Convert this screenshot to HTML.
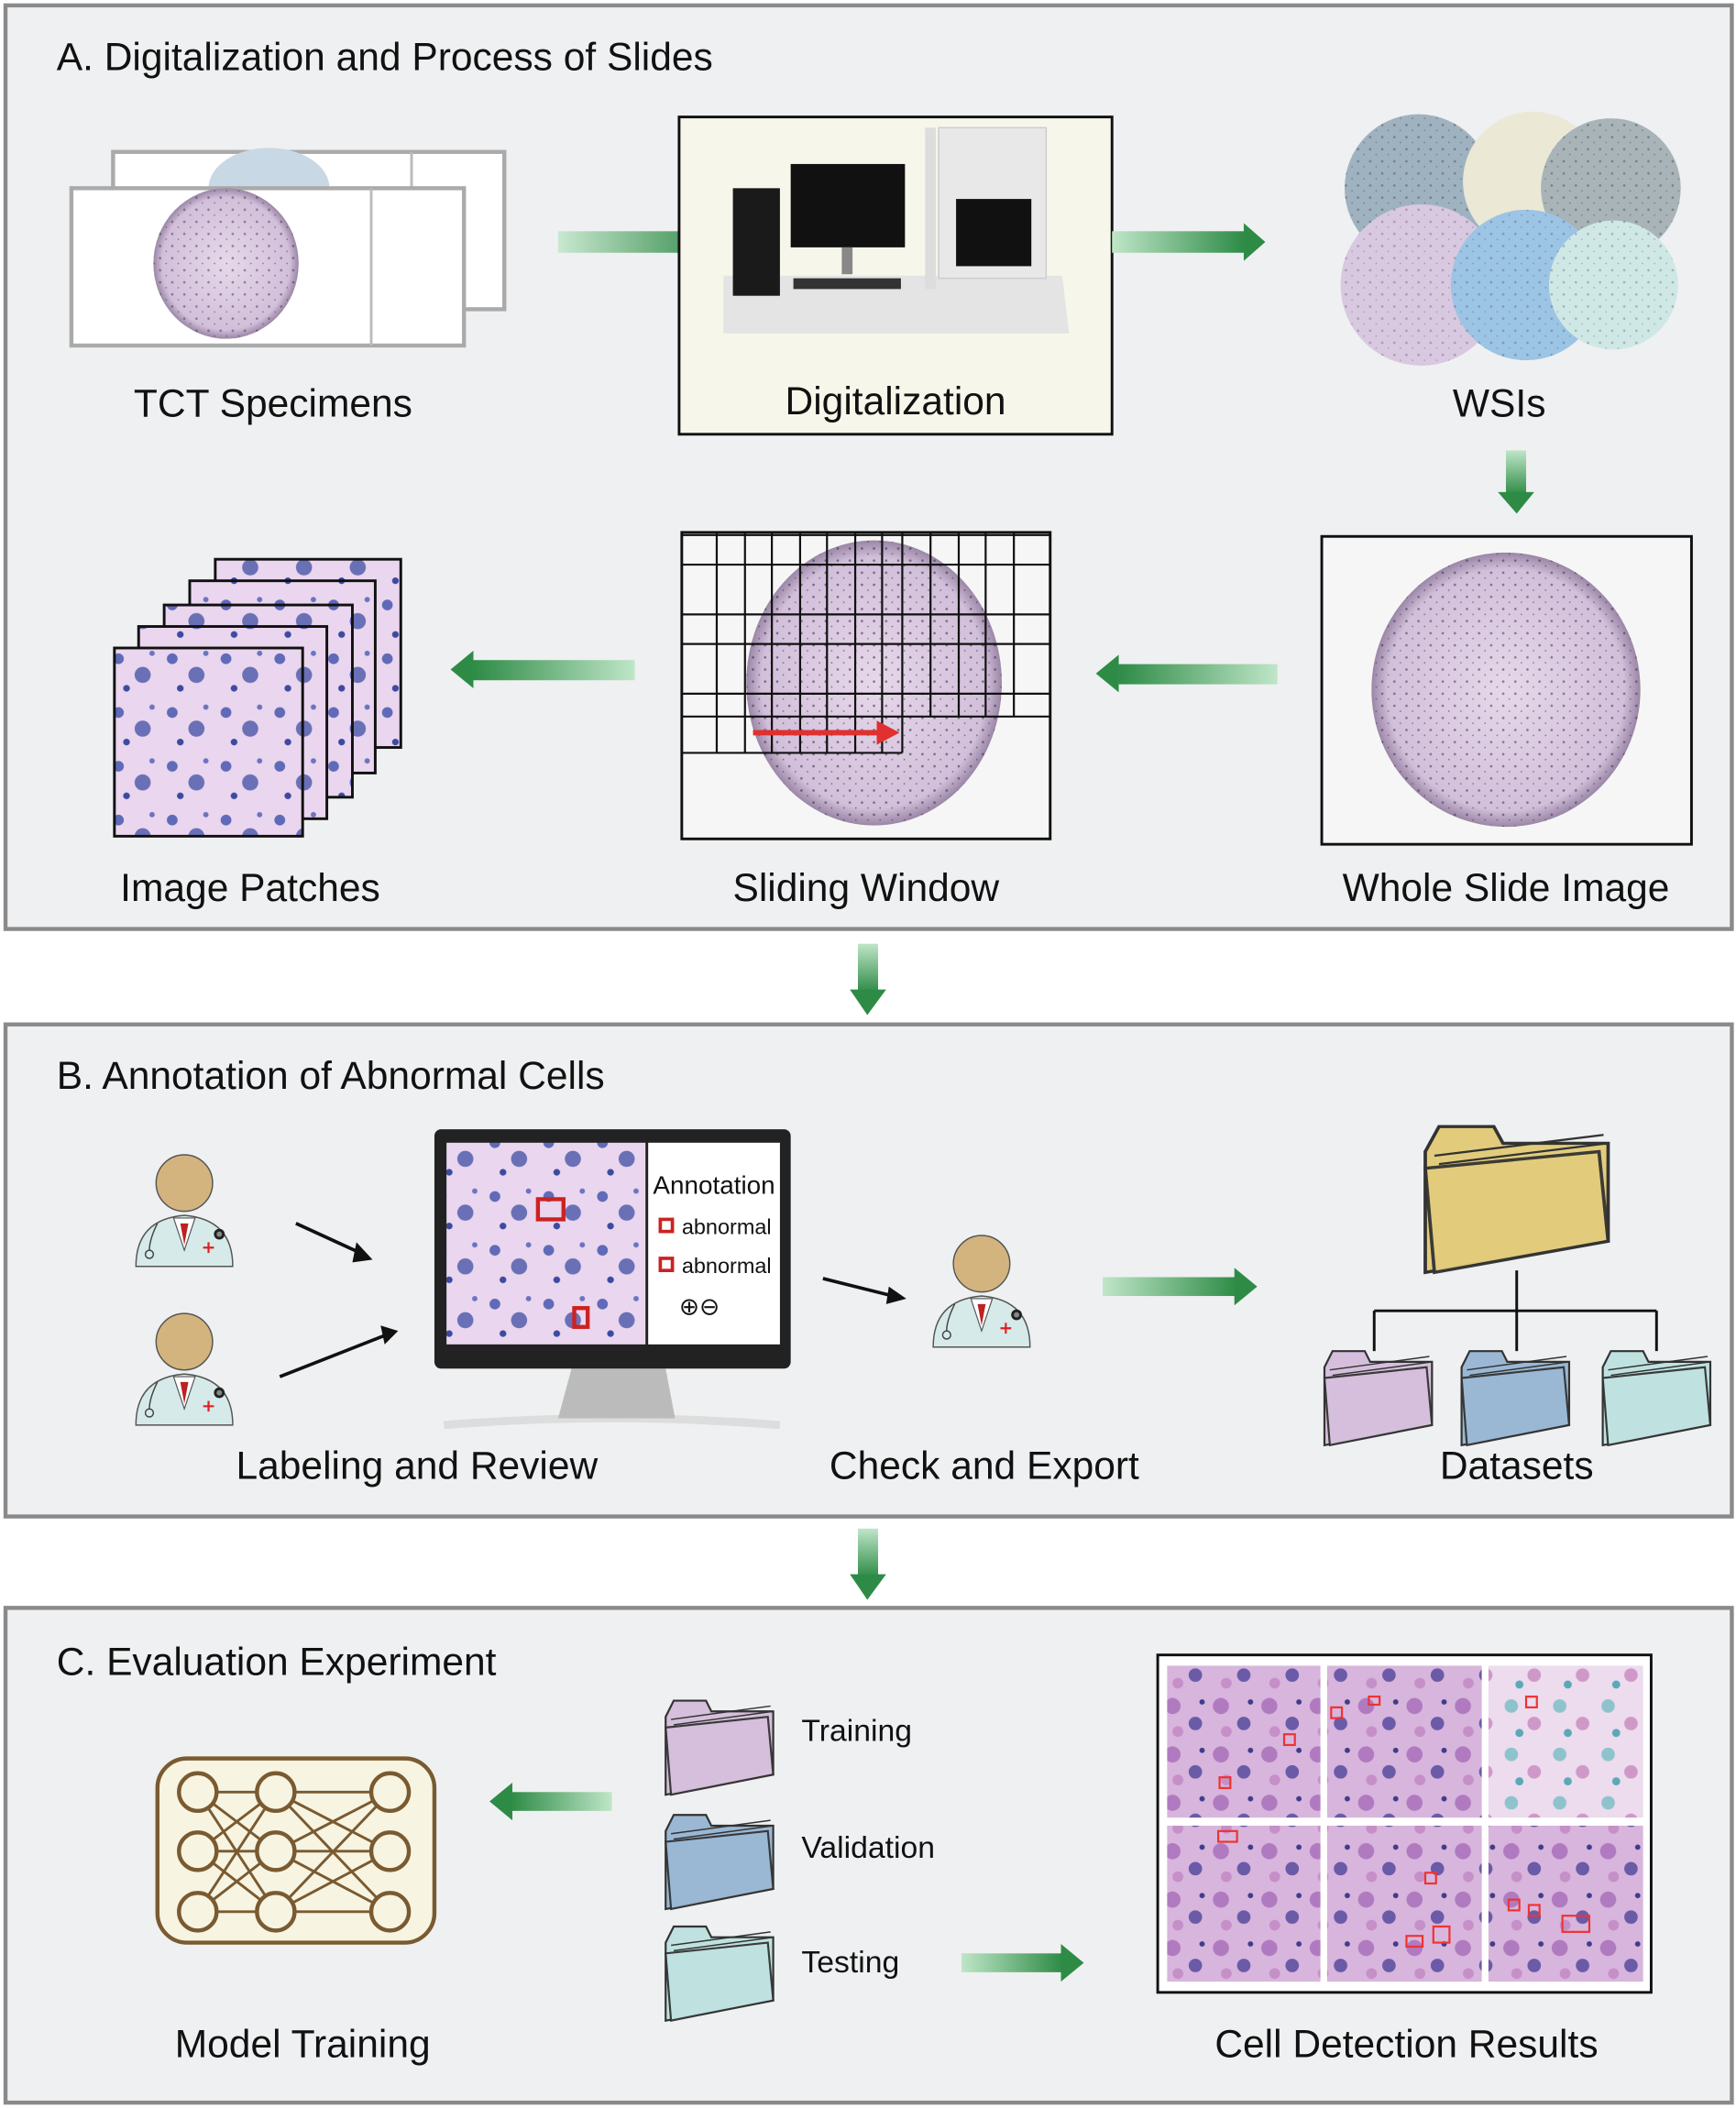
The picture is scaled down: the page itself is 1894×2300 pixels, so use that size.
<!DOCTYPE html>
<html><head><meta charset="utf-8"><style>
html,body{margin:0;padding:0;background:#fff}
svg{display:block}
text{font-family:"Liberation Sans",sans-serif;fill:#111}
</style></head><body>
<svg width="1894" height="2300" viewBox="0 0 1291 1568" xmlns="http://www.w3.org/2000/svg">
<defs>
<linearGradient id="gr" x1="0" x2="1"><stop offset="0" stop-color="#bfe6c8"/><stop offset="1" stop-color="#2e8b46"/></linearGradient>
<linearGradient id="gl" x1="1" x2="0"><stop offset="0" stop-color="#bfe6c8"/><stop offset="1" stop-color="#2e8b46"/></linearGradient>
<linearGradient id="gd" x1="0" x2="0" y1="0" y2="1"><stop offset="0" stop-color="#bfe6c8"/><stop offset="1" stop-color="#2e8b46"/></linearGradient>
<radialGradient id="pur"><stop offset="0" stop-color="#e6d8ea"/><stop offset="0.88" stop-color="#d2bfda"/><stop offset="1" stop-color="#9a86a6"/></radialGradient>
<pattern id="dots" width="9" height="9" patternUnits="userSpaceOnUse"><circle cx="2" cy="3" r="0.9" fill="#3a2d45"/><circle cx="6.5" cy="7" r="0.6" fill="#3a2d45"/></pattern>
<pattern id="cells" width="40" height="40" patternUnits="userSpaceOnUse"><rect width="40" height="40" fill="#ead6ee"/><circle cx="8" cy="10" r="4" fill="#5f6ab8"/><circle cx="26" cy="22" r="6" fill="#4a56a8" opacity="0.8"/><circle cx="14" cy="32" r="2.5" fill="#3d4aa0"/><circle cx="33" cy="6" r="2" fill="#6b74c0"/></pattern>
<pattern id="cells2" width="36" height="36" patternUnits="userSpaceOnUse"><rect width="36" height="36" fill="#d8b5dc"/><circle cx="8" cy="9" r="6" fill="#b07ac0"/><circle cx="25" cy="22" r="5" fill="#6a5aa8"/><circle cx="12" cy="28" r="4" fill="#c58fc8"/><circle cx="30" cy="6" r="2" fill="#3d3d8a"/></pattern>
<pattern id="cells3" width="36" height="36" patternUnits="userSpaceOnUse"><rect width="36" height="36" fill="#ecdcee"/><circle cx="8" cy="9" r="5" fill="#8fc3cc"/><circle cx="25" cy="22" r="5" fill="#d098c8"/><circle cx="14" cy="29" r="3" fill="#5aa8b8"/></pattern>
<g id="doc">
<path d="M-36,40 Q-36,5 0,2 Q36,5 36,40 Z" fill="#d6eaea" stroke="#555" stroke-width="1"/>
<path d="M-8,4 L0,28 L8,4 Z" fill="#fff" stroke="#555" stroke-width="0.8"/>
<path d="M-3,8 L0,24 L3,8 Z" fill="#b22"/>
<path d="M-20,8 Q-26,20 -26,28" fill="none" stroke="#444"/><circle cx="-26" cy="31" r="3" fill="none" stroke="#444"/>
<circle cx="26" cy="16" r="4" fill="#222"/><circle cx="26" cy="16" r="2" fill="#888"/>
<path d="M14,26 h8 M18,22 v8" stroke="#d22" stroke-width="1.5"/>
<circle cx="0" cy="-22" r="21" fill="#d4b47e" stroke="#555" stroke-width="1"/>
</g>
<g id="fold">
<path d="M0,12 L6,0 L30,0 L34,8 L80,8 L80,55 L0,70 Z" fill="currentColor" stroke="#333" stroke-width="1.5"/>
<path d="M4,14 L78,4 M6,18 L80,8" stroke="#333" stroke-width="1" fill="none"/>
<path d="M0,20 L76,12 L80,55 L4,70 Z" fill="currentColor" stroke="#333" stroke-width="1.5" opacity="0.95"/>
</g>
</defs>

<!-- Panel A -->
<rect x="4" y="4" width="1284" height="687" fill="#eff0f1" stroke="#8a8a8a" stroke-width="3"/>
<text x="42" y="52" font-size="29">A. Digitalization and Process of Slides</text>
<rect x="84" y="113" width="291" height="117" fill="#fff" stroke="#aaa" stroke-width="3"/>
<line x1="306" y1="113" x2="306" y2="230" stroke="#bbb" stroke-width="2"/>
<path d="M155,140 A45,30 0 0 1 245,140 Z" fill="#c8d8e4"/>
<rect x="53" y="140" width="292" height="117" fill="#fff" stroke="#aaa" stroke-width="3"/>
<line x1="276" y1="140" x2="276" y2="257" stroke="#bbb" stroke-width="2"/>
<ellipse cx="168" cy="196" rx="54" ry="56" fill="url(#pur)"/>
<ellipse cx="168" cy="196" rx="54" ry="56" fill="url(#dots)" opacity="0.5"/>
<text x="203" y="310" font-size="29" text-anchor="middle">TCT Specimens</text>
<rect x="415" y="172" width="92" height="16" fill="url(#gr)" opacity="0.8"/>
<rect x="505" y="87" width="322" height="236" fill="#f6f6ea" stroke="#111" stroke-width="2"/>
<path d="M538,205 L790,205 L795,248 L538,248 Z" fill="#e4e4e4"/>
<rect x="545" y="140" width="35" height="80" fill="#1a1a1a"/>
<rect x="588" y="122" width="85" height="62" fill="#111"/>
<rect x="626" y="184" width="8" height="20" fill="#888"/>
<rect x="590" y="207" width="80" height="8" fill="#333"/>
<rect x="688" y="95" width="8" height="120" fill="#ddd"/>
<rect x="698" y="95" width="80" height="112" fill="#e8e8e8" stroke="#ccc"/>
<rect x="711" y="148" width="56" height="50" fill="#111"/>
<text x="666" y="308" font-size="29" text-anchor="middle">Digitalization</text>
<rect x="827" y="172" width="98" height="16" fill="url(#gr)"/>
<polygon points="925,166 941,180 925,194" fill="#2e8b46"/>
<circle cx="1055" cy="140" r="55" fill="#9fb2c0"/><circle cx="1055" cy="140" r="55" fill="url(#dots)" opacity="0.4"/>
<circle cx="1140" cy="135" r="52" fill="#ece8d6"/>
<circle cx="1198" cy="140" r="52" fill="#a8b4b8"/><circle cx="1198" cy="140" r="52" fill="url(#dots)" opacity="0.4"/>
<circle cx="1057" cy="212" r="60" fill="#d8c8e0"/><circle cx="1057" cy="212" r="60" fill="url(#dots)" opacity="0.3"/>
<circle cx="1135" cy="212" r="56" fill="#9cc4e4"/><circle cx="1135" cy="212" r="56" fill="url(#dots)" opacity="0.3"/>
<circle cx="1200" cy="212" r="48" fill="#cfe8e6"/><circle cx="1200" cy="212" r="48" fill="url(#dots)" opacity="0.3"/>
<text x="1115" y="310" font-size="29" text-anchor="middle">WSIs</text>
<rect x="1120" y="335" width="15" height="33" fill="url(#gd)"/>
<polygon points="1114,366 1141,366 1128,382" fill="#2e8b46"/>
<rect x="983" y="399" width="275" height="229" fill="#f6f6f6" stroke="#111" stroke-width="2"/>
<ellipse cx="1120" cy="513" rx="100" ry="102" fill="url(#pur)"/><ellipse cx="1120" cy="513" rx="100" ry="102" fill="url(#dots)" opacity="0.55"/>
<text x="1120" y="670" font-size="29" text-anchor="middle">Whole Slide Image</text>
<rect x="832" y="494" width="118" height="15" fill="url(#gl)"/>
<polygon points="832,487 815,501 832,515" fill="#2e8b46"/>
<rect x="507" y="396" width="274" height="228" fill="#f6f6f6" stroke="#111" stroke-width="2"/>
<ellipse cx="650" cy="508" rx="95" ry="106" fill="url(#pur)"/><ellipse cx="650" cy="508" rx="95" ry="106" fill="url(#dots)" opacity="0.6"/>
<g stroke="#111" stroke-width="1.5" fill="none">
<path d="M507,420H781 M507,457H781 M507,479H781 M507,516H781 M507,533H781 M507,560H671 M507,398H781"/>
<path d="M533,396V560 M554,396V560 M574,396V560 M595,396V560 M615,396V560 M636,396V560 M656,396V560 M671,396V560 M692,396V533 M713,396V533 M733,396V533 M754,396V533"/>
</g>
<line x1="560" y1="545" x2="655" y2="545" stroke="#e03030" stroke-width="4"/>
<polygon points="652,536 669,545 652,554" fill="#e03030"/>
<text x="644" y="670" font-size="29" text-anchor="middle">Sliding Window</text>
<rect x="352" y="491" width="120" height="15" fill="url(#gl)"/>
<polygon points="352,484 335,498 352,512" fill="#2e8b46"/>
<g stroke="#111" stroke-width="2">
<rect x="160" y="416" width="138" height="140" fill="url(#cells)"/>
<rect x="141" y="432" width="138" height="143" fill="url(#cells)"/>
<rect x="122" y="450" width="140" height="143" fill="url(#cells)"/>
<rect x="103" y="466" width="140" height="143" fill="url(#cells)"/>
<rect x="85" y="482" width="140" height="140" fill="url(#cells)"/>
</g>
<text x="186" y="670" font-size="29" text-anchor="middle">Image Patches</text>

<rect x="638" y="702" width="15" height="36" fill="url(#gd)"/>
<polygon points="632,736 659,736 645,755" fill="#2e8b46"/>

<!-- Panel B -->
<rect x="4" y="762" width="1284" height="366" fill="#eff0f1" stroke="#8a8a8a" stroke-width="3"/>
<text x="42" y="810" font-size="29">B. Annotation of Abnormal Cells</text>
<use href="#doc" x="137" y="902"/>
<use href="#doc" x="137" y="1020"/>
<use href="#doc" x="730" y="962"/>
<g stroke="#111" stroke-width="2.5">
<line x1="220" y1="910" x2="268" y2="932"/><line x1="208" y1="1024" x2="287" y2="993"/><line x1="612" y1="951" x2="664" y2="964"/>
</g>
<polygon points="265,924 277,937 262,939" fill="#111"/>
<polygon points="283,986 296,990 286,1000" fill="#111"/>
<polygon points="661,957 674,966 659,970" fill="#111"/>
<path d="M330,1060 Q455,1050 580,1060" fill="none" stroke="#ddd" stroke-width="6"/>
<path d="M425,1018 L495,1018 L502,1055 L415,1055 Z" fill="#bbb"/>
<rect x="323" y="840" width="265" height="178" rx="5" fill="#222"/>
<rect x="332" y="850" width="148" height="150" fill="url(#cells)"/>
<rect x="482" y="850" width="98" height="150" fill="#fff"/>
<rect x="400" y="892" width="19" height="15" fill="none" stroke="#c22" stroke-width="3"/>
<rect x="427" y="973" width="10" height="14" fill="none" stroke="#c22" stroke-width="3"/>
<text x="531" y="888" font-size="19" text-anchor="middle">Annotation</text>
<rect x="491" y="907" width="9" height="9" fill="none" stroke="#c22" stroke-width="2.5"/>
<text x="507" y="918" font-size="16">abnormal</text>
<rect x="491" y="936" width="9" height="9" fill="none" stroke="#c22" stroke-width="2.5"/>
<text x="507" y="947" font-size="16">abnormal</text>
<text x="505" y="978" font-size="18">⊕⊖</text>
<text x="310" y="1100" font-size="29" text-anchor="middle">Labeling and Review</text>
<text x="732" y="1100" font-size="29" text-anchor="middle">Check and Export</text>
<rect x="820" y="950" width="100" height="14" fill="url(#gr)"/>
<polygon points="918,943 935,957 918,971" fill="#2e8b46"/>
<g color="#e2cc7c"><use href="#fold" transform="translate(1060,838) scale(1.7,1.55)"/></g>
<g stroke="#111" stroke-width="2" fill="none"><path d="M1128,945V975 M1022,975H1232 M1022,975V1005 M1128,975V1005 M1232,975V1005"/></g>
<g color="#d5bfdc"><use href="#fold" x="985" y="1005"/></g>
<g color="#9ab8d4"><use href="#fold" x="1087" y="1005"/></g>
<g color="#bfe2e0"><use href="#fold" x="1192" y="1005"/></g>
<text x="1128" y="1100" font-size="29" text-anchor="middle">Datasets</text>

<rect x="638" y="1137" width="15" height="36" fill="url(#gd)"/>
<polygon points="632,1171 659,1171 645,1190" fill="#2e8b46"/>

<!-- Panel C -->
<rect x="4" y="1196" width="1284" height="368" fill="#eff0f1" stroke="#8a8a8a" stroke-width="3"/>
<text x="42" y="1246" font-size="29">C. Evaluation Experiment</text>
<rect x="117" y="1308" width="206" height="137" rx="22" fill="#f7f4e2" stroke="#7a5a30" stroke-width="3"/>
<g stroke="#7a5a30" stroke-width="2" fill="none">
<path d="M147,1333L205,1333M147,1333L205,1377M147,1333L205,1422M147,1377L205,1333M147,1377L205,1377M147,1377L205,1422M147,1422L205,1333M147,1422L205,1377M147,1422L205,1422"/>
<path d="M205,1333L290,1333M205,1333L290,1377M205,1333L290,1422M205,1377L290,1333M205,1377L290,1377M205,1377L290,1422M205,1422L290,1333M205,1422L290,1377M205,1422L290,1422"/>
</g>
<g fill="#f7f4e2" stroke="#7a5a30" stroke-width="3">
<circle cx="147" cy="1333" r="14"/><circle cx="147" cy="1377" r="14"/><circle cx="147" cy="1422" r="14"/>
<circle cx="205" cy="1333" r="14"/><circle cx="205" cy="1377" r="14"/><circle cx="205" cy="1422" r="14"/>
<circle cx="290" cy="1333" r="14"/><circle cx="290" cy="1377" r="14"/><circle cx="290" cy="1422" r="14"/>
</g>
<text x="225" y="1530" font-size="29" text-anchor="middle">Model Training</text>
<rect x="380" y="1333" width="75" height="14" fill="url(#gl)"/>
<polygon points="381,1326 364,1340 381,1354" fill="#2e8b46"/>
<g color="#d5bfdc"><use href="#fold" x="495" y="1265"/></g>
<g color="#9ab8d4"><use href="#fold" x="495" y="1350"/></g>
<g color="#bfe2e0"><use href="#fold" x="495" y="1433"/></g>
<text x="596" y="1295" font-size="23">Training</text>
<text x="596" y="1382" font-size="23">Validation</text>
<text x="596" y="1467" font-size="23">Testing</text>
<rect x="715" y="1453" width="75" height="14" fill="url(#gr)"/>
<polygon points="789,1446 806,1460 789,1474" fill="#2e8b46"/>
<rect x="861" y="1231" width="367" height="251" fill="#fff" stroke="#111" stroke-width="2"/>
<rect x="868" y="1239" width="114" height="113" fill="url(#cells2)"/>
<rect x="987" y="1239" width="115" height="113" fill="url(#cells2)"/>
<rect x="1107" y="1239" width="115" height="113" fill="url(#cells3)"/>
<rect x="868" y="1358" width="114" height="116" fill="url(#cells2)"/>
<rect x="987" y="1358" width="115" height="116" fill="url(#cells2)"/>
<rect x="1107" y="1358" width="115" height="116" fill="url(#cells2)"/>
<g fill="none" stroke="#e33" stroke-width="1.5">
<rect x="907" y="1322" width="8" height="8"/><rect x="955" y="1290" width="8" height="8"/><rect x="990" y="1270" width="8" height="8"/><rect x="1018" y="1262" width="8" height="6"/><rect x="1135" y="1262" width="8" height="8"/>
<rect x="906" y="1362" width="14" height="8"/><rect x="1046" y="1440" width="12" height="8"/><rect x="1066" y="1433" width="12" height="12"/><rect x="1060" y="1393" width="8" height="8"/><rect x="1162" y="1425" width="20" height="12"/><rect x="1137" y="1417" width="8" height="8"/><rect x="1122" y="1413" width="8" height="8"/>
</g>
<text x="1046" y="1530" font-size="29" text-anchor="middle">Cell Detection Results</text>
</svg>
</body></html>
